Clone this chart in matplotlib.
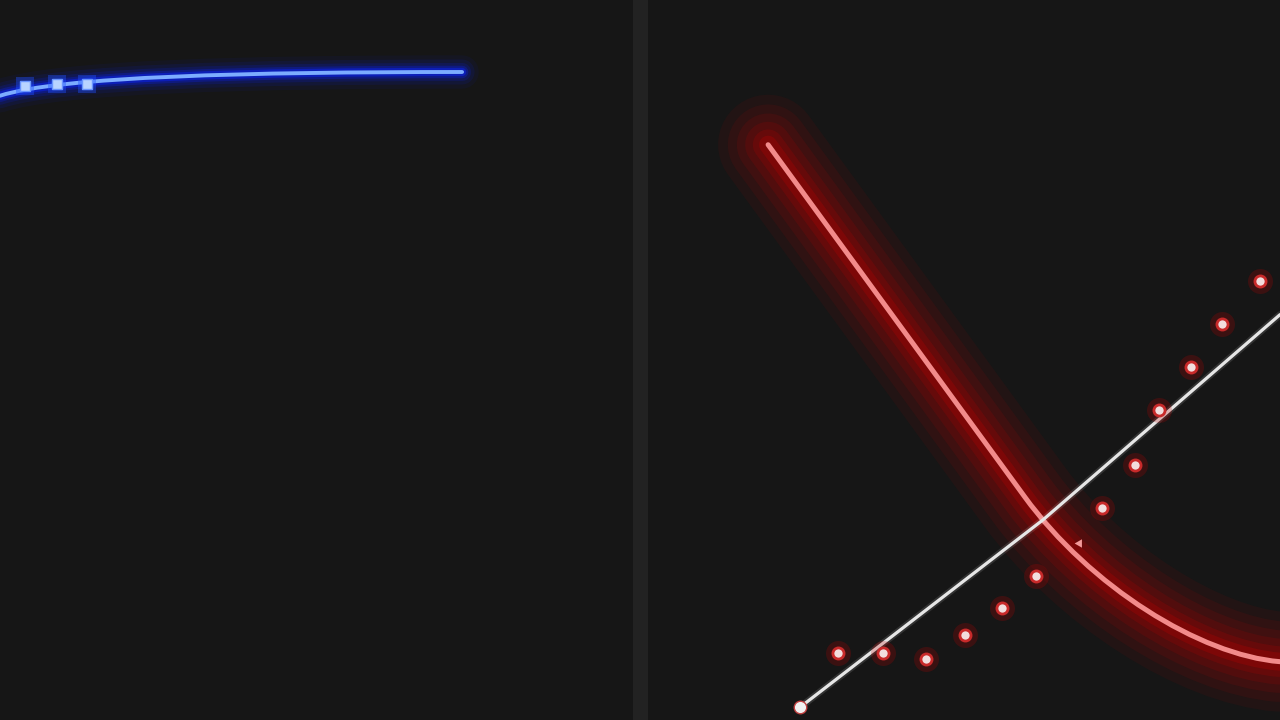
import matplotlib
matplotlib.use("Agg")
import matplotlib.pyplot as plt
from matplotlib.patches import Rectangle, PathPatch
from matplotlib.path import Path

# ---- data ----
# blue curve: cubic Bezier anchor/control points (left panel, 0-100 scale)
blue_x = [0.0, 9.5, 39.5, 73.0]
blue_y = [86.7, 89.4, 90.0, 90.0]
blue_mark_x = [3.95, 9.0, 13.7]
blue_mark_y = [88.0, 88.3, 88.4]

# red curve: straight run, then cubic Bezier (right panel, 0-100 scale)
red_x = [19.0, 59.6, 69.9, 87.3, 100.0]
red_y = [79.9, 31.0, 18.6, 9.0, 8.1]
red_tick_x = [68.2]
red_tick_y = [24.6]

white_x = [24.1, 62.5, 100.0]
white_y = [1.8, 27.8, 56.3]

pts_x = [30.1, 37.2, 44.0, 50.2, 56.0, 61.4, 71.8, 77.1, 80.9, 85.9, 90.8, 96.8]
pts_y = [9.3, 9.3, 8.5, 11.8, 15.6, 20.0, 29.4, 35.4, 43.1, 49.0, 55.0, 61.0]

BG = "#161616"

fig = plt.figure(figsize=(12.8, 7.2), dpi=100, facecolor=BG)

# separator strip
fig.patches.append(Rectangle((633 / 1280, 0), 15 / 1280, 1, transform=fig.transFigure,
                             facecolor="#222222", edgecolor="none", zorder=0))

axL = fig.add_axes([0, 0, 633 / 1280, 1])
axR = fig.add_axes([648 / 1280, 0, 632 / 1280, 1])
for ax in (axL, axR):
    ax.set_xlim(0, 100)
    ax.set_ylim(0, 100)
    ax.set_facecolor(BG)
    ax.axis("off")


def draw_path(ax, verts, codes, color, lw, alpha=1.0, z=2):
    p = PathPatch(Path(verts, codes), facecolor="none", edgecolor=color, lw=lw,
                  alpha=alpha, capstyle="round", joinstyle="round", zorder=z)
    ax.add_patch(p)


# ---- left panel: blue glowing curve ----
b_verts = list(zip(blue_x, blue_y))
b_codes = [Path.MOVETO, Path.CURVE4, Path.CURVE4, Path.CURVE4]
for lw, a in [(24, 0.06), (18, 0.1), (13, 0.16), (9, 0.28), (6, 0.5)]:
    draw_path(axL, b_verts, b_codes, "#0a22f0", lw, a)
draw_path(axL, b_verts, b_codes, "#7cacff", 2.8, 1.0, z=3)
axL.plot(blue_mark_x, blue_mark_y, ls="none", marker="s", ms=13, color="#2050ff",
         alpha=0.4, mew=0, zorder=4)
axL.plot(blue_mark_x, blue_mark_y, ls="none", marker="s", ms=7, color="#b8d4ff",
         mec="#6a96ff", mew=1, zorder=5)

# ---- right panel: red glowing curve ----
r_verts = list(zip(red_x, red_y))
r_codes = [Path.MOVETO, Path.LINETO, Path.CURVE4, Path.CURVE4, Path.CURVE4]
for lw, a in [(72, 0.07), (58, 0.09), (45, 0.11), (33, 0.14), (22, 0.18),
              (13, 0.25)]:
    draw_path(axR, r_verts, r_codes, "#c20000", lw, a)
draw_path(axR, r_verts, r_codes, "#f28a8a", 3.6, 1.0, z=3)
axR.plot(red_tick_x, red_tick_y, ls="none", marker=(3, 0, -30), ms=7, color="#f29a9a",
         mew=0, zorder=4)

# white line
axR.plot(white_x, white_y, color="#ffffff", lw=5, alpha=0.12, solid_capstyle="round",
         zorder=5)
axR.plot(white_x, white_y, color="#e6e6e6", lw=2.3, solid_capstyle="round", zorder=6)
axR.plot(white_x[:1], white_y[:1], ls="none", marker="o", ms=9, color="#f0f0f0",
         mec="#c04040", mew=1, zorder=7)

# scatter points with red halo
axR.plot(pts_x, pts_y, ls="none", marker="o", ms=18, color="#c00000", alpha=0.22, mew=0,
         zorder=7)
axR.plot(pts_x, pts_y, ls="none", marker="o", ms=8, color="#f2dede", mec="#c82a2a", mew=2,
         zorder=8)

fig.savefig("out.png", dpi=100, facecolor=BG)
